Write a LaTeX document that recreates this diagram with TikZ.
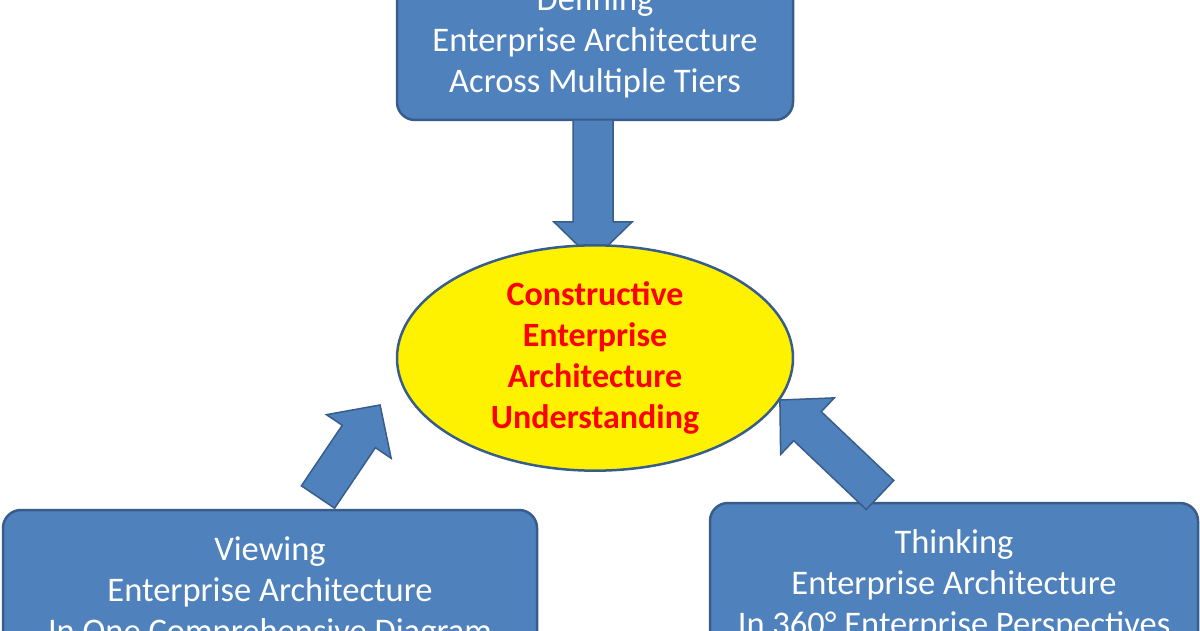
\documentclass[tikz,border=0pt]{standalone}
\usepackage{fontspec}
\setmainfont{Carlito}
\usetikzlibrary{shapes.geometric}
\definecolor{boxfill}{HTML}{4F81BD}
\definecolor{boxline}{HTML}{385D8A}
\tikzset{
  bx/.style={draw=boxline,line width=2.5pt,fill=boxfill,rounded corners=18pt},
  bt/.style={text=white,font=\fontsize{34.5}{41}\selectfont,align=center},
  barrow/.style={draw=boxline,line width=1.5pt,fill=boxfill}
}
\newcommand{\blockarrow}[4]{% x y angle length
  \draw[barrow,shift={(#1pt,#2pt)},rotate=#3] (0,-20pt)--(#4pt-38pt,-20pt)--(#4pt-38pt,-39pt)--(#4pt,0)--(#4pt-38pt,39pt)--(#4pt-38pt,20pt)--(0,20pt)--cycle;}
\begin{document}
\begin{tikzpicture}[x=1pt,y=1pt]
\useasboundingbox (0,0) rectangle (1200,630);
\fill[white] (0,0) rectangle (1200,630);
\begin{scope}
\clip (0,0) rectangle (1200,630);
\draw[bx] (397,510) rectangle (793,680);
\node[bt] (top) at (595,588) {Defining\\Enterprise Architecture\\Across Multiple Tiers};
\draw[bx] (3,-60) rectangle (537,120);
\node[bt] (left) at (270,37) {Viewing\\Enterprise Architecture\\In One Comprehensive Diagram};
\draw[bx] (710,-60) rectangle (1198,127);
\node[bt] (right) at (954,45) {Thinking\\Enterprise Architecture\\In 360° Enterprise Perspectives};
\end{scope}
\blockarrow{593}{510}{-90}{140}
\blockarrow{318}{133}{56}{111}
\blockarrow{880}{135}{136.5}{138}
\node[ellipse,draw=boxline,line width=2.5pt,fill=yellow,minimum width=396pt,minimum height=200pt,
  text=red,font=\bfseries\fontsize{34}{41}\selectfont,align=center] (c) at (595,272)
  {Constructive\\Enterprise\\Architecture\\Understanding};
\end{tikzpicture}
\end{document}
